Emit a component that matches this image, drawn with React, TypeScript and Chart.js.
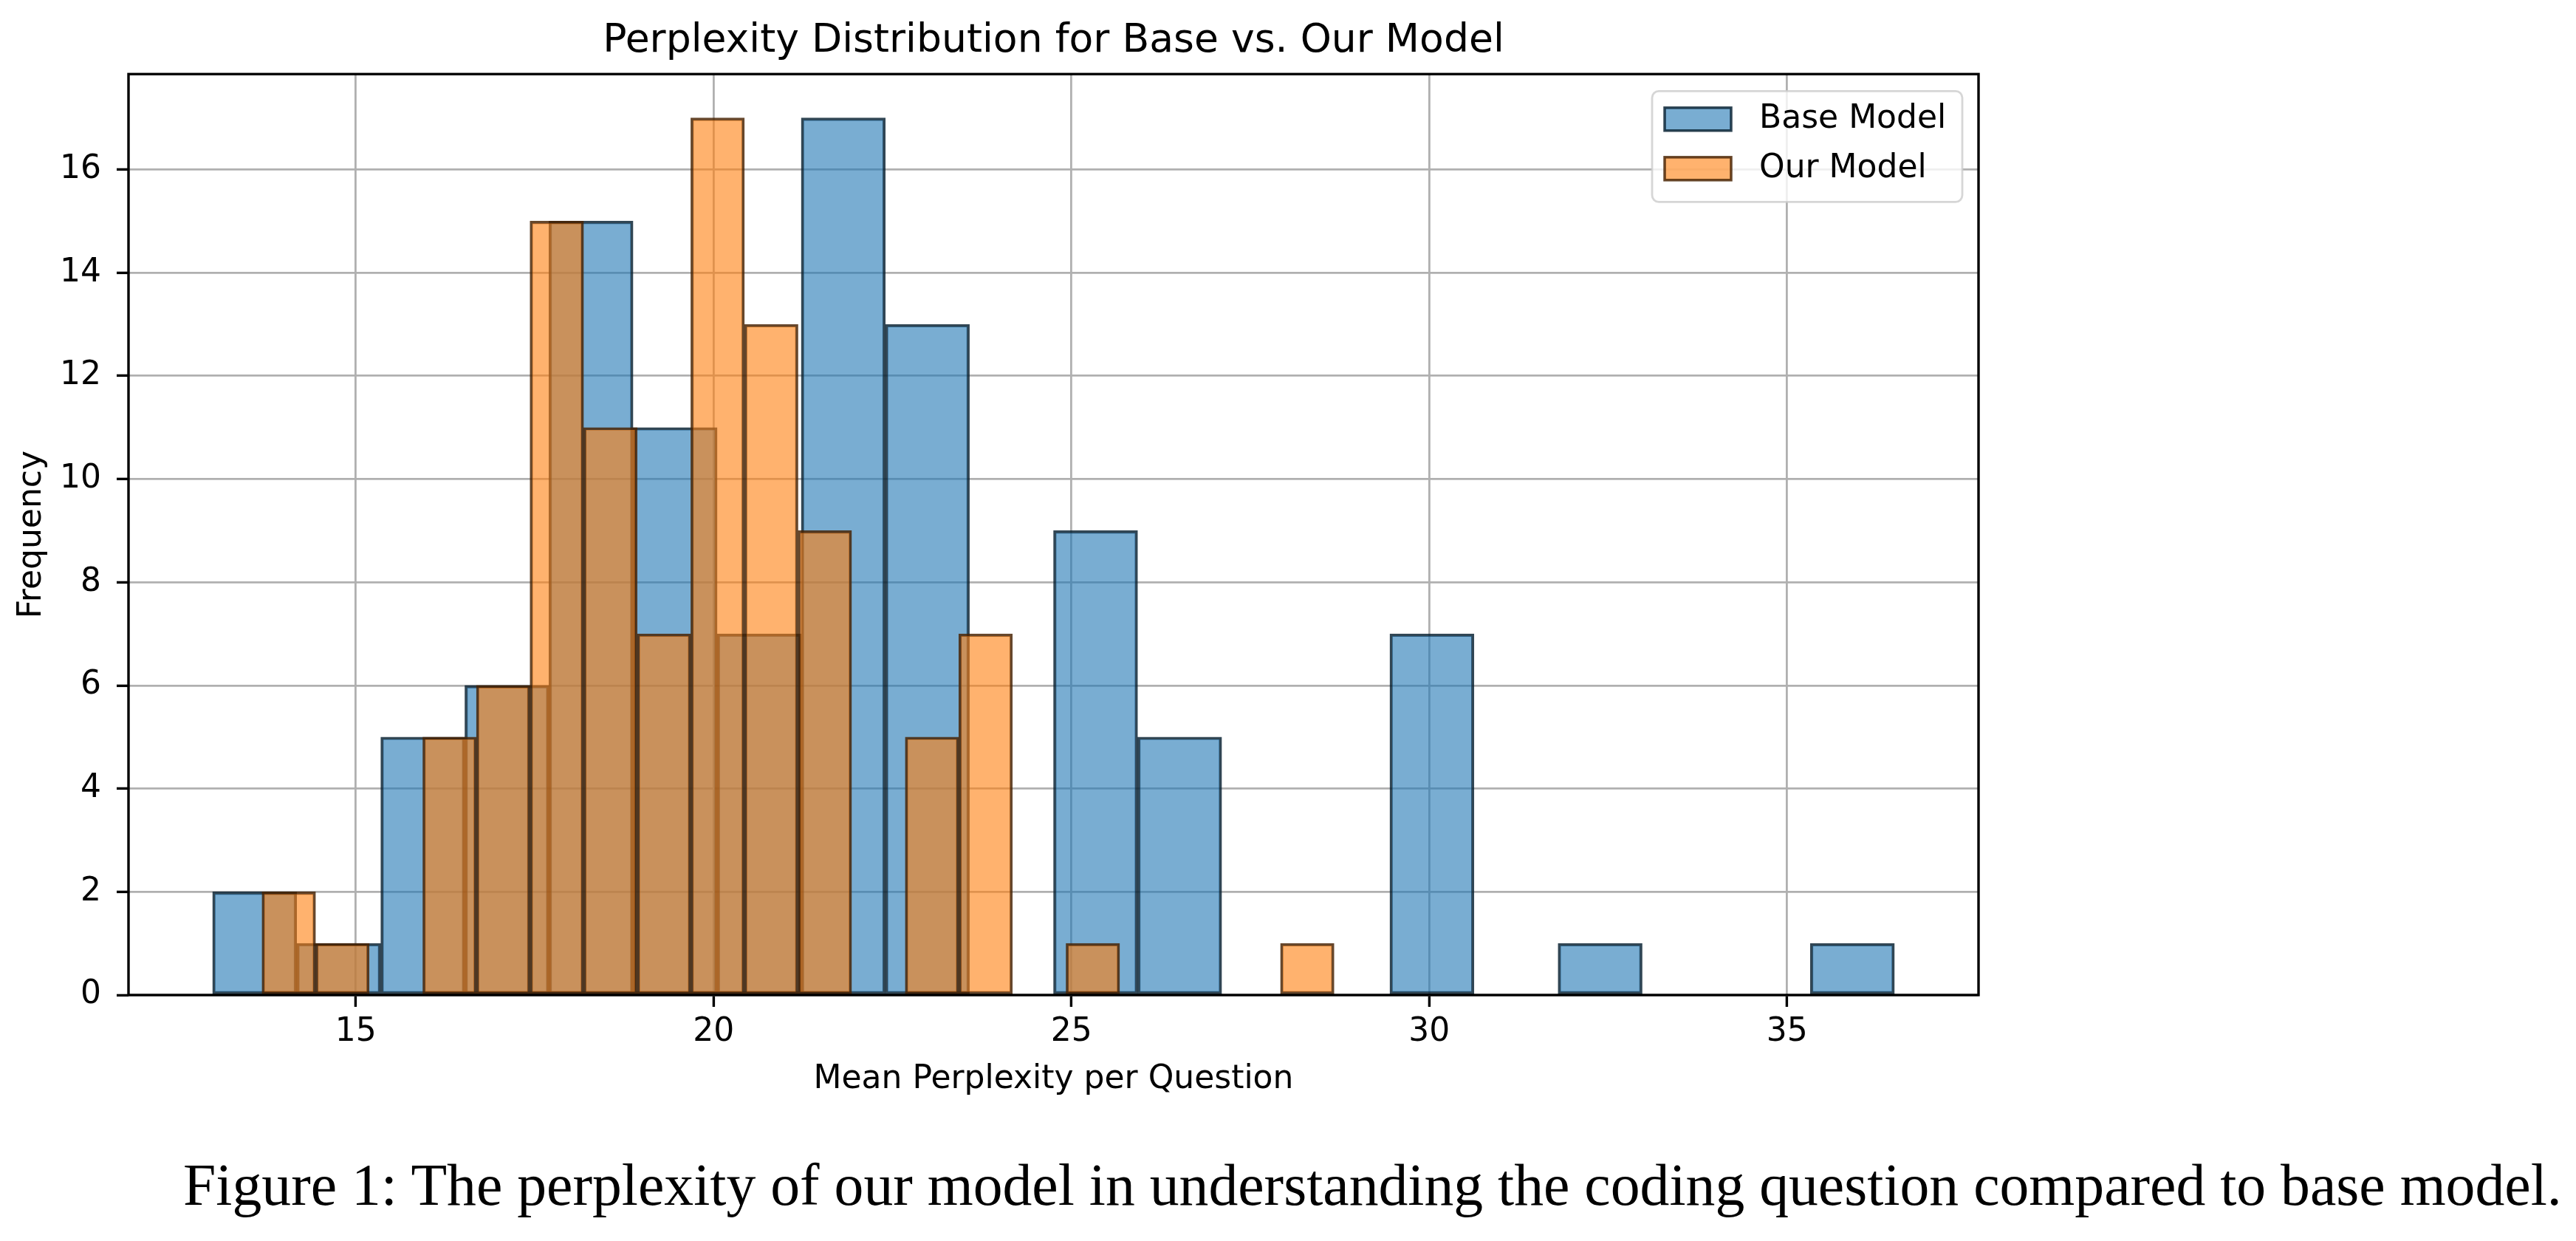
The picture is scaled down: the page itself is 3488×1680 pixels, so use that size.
import React, { useEffect, useRef } from 'react';
import { Chart, registerables } from 'chart.js';

Chart.register(...registerables);

// ---- data ----
const titleText = 'Perplexity Distribution for Base vs. Our Model';
const xAxisLabel = 'Mean Perplexity per Question';
const yAxisLabel = 'Frequency';
const captionText =
  'Figure 1: The perplexity of our model in understanding the coding question compared to base model.';
const seriesNames = ['Base Model', 'Our Model'];

// histogram bin ranges (first left edge, last right edge); bins are equal width
const baseBinRange = [13.0, 36.5];
const baseCounts = [2, 1, 5, 6, 15, 11, 7, 17, 13, 0, 9, 5, 0, 0, 7, 0, 1, 0, 0, 1];
const ourBinRange = [13.69, 28.67];
const ourCounts = [2, 1, 0, 5, 6, 15, 11, 7, 17, 13, 9, 0, 5, 7, 0, 1, 0, 0, 0, 1];

const xTicks = [15, 20, 25, 30, 35];
const yTicks = [0, 2, 4, 6, 8, 10, 12, 14, 16];
const xLimits = [11.825, 37.675];
const yLimits = [0, 17.85];

// ---- styles ----
const FONT = '"DejaVu Sans", sans-serif';
const baseFill = 'rgba(31,119,180,0.6)';
const baseEdge = 'rgba(9,34,51,0.84)';
const ourFill = 'rgba(255,127,14,0.6)';
const ourEdge = 'rgba(73,36,4,0.84)';

function binPoints(range: number[], counts: number[]) {
  const w = (range[1] - range[0]) / counts.length;
  return counts.map((c, i) => ({ x: range[0] + (i + 0.5) * w, y: c }));
}

const framePlugin = {
  id: 'mplFrame',
  afterDraw(chart: any) {
    const { ctx, chartArea: ca } = chart;
    ctx.save();
    // four spines
    ctx.strokeStyle = '#000';
    ctx.lineWidth = 3.4;
    ctx.strokeRect(ca.left, ca.top, ca.right - ca.left, ca.bottom - ca.top);
    // legend box (upper right, inside axes)
    const fw = 420;
    const fh = 150;
    const fx = ca.right - 22 - fw;
    const fy = ca.top + 23;
    ctx.beginPath();
    ctx.roundRect(fx, fy, fw, fh, 9);
    ctx.fillStyle = 'rgba(255,255,255,0.8)';
    ctx.fill();
    ctx.strokeStyle = 'rgba(204,204,204,0.8)';
    ctx.lineWidth = 2.8;
    ctx.stroke();
    chart.data.datasets.forEach((ds: any, i: number) => {
      const cy = fy + 38 + i * 67;
      const hx = fx + 17;
      const hw = 90;
      const hh = 31;
      ctx.fillStyle = ds.backgroundColor;
      ctx.fillRect(hx, cy - hh / 2, hw, hh);
      ctx.strokeStyle = ds.borderColor;
      ctx.lineWidth = 3.5;
      ctx.strokeRect(hx, cy - hh / 2, hw, hh);
      ctx.fillStyle = '#000';
      ctx.font = `44px ${FONT}`;
      ctx.textBaseline = 'middle';
      ctx.textAlign = 'left';
      ctx.fillText(ds.label, fx + 145, cy);
    });
    ctx.restore();
  },
};

export default function App() {
  const canvasRef = useRef<HTMLCanvasElement | null>(null);

  useEffect(() => {
    const canvas = canvasRef.current;
    if (!canvas) return;
    const tickFont = { family: FONT, size: 44, weight: 'normal' as const };
    const chart = new Chart(canvas, {
      type: 'bar',
      data: {
        datasets: [
          {
            label: seriesNames[0],
            data: binPoints(baseBinRange, baseCounts) as any,
            backgroundColor: baseFill,
            borderColor: baseEdge,
            borderWidth: 3.5,
            borderSkipped: false,
            grouped: false,
            order: 1,
          },
          {
            label: seriesNames[1],
            data: binPoints(ourBinRange, ourCounts) as any,
            backgroundColor: ourFill,
            borderColor: ourEdge,
            borderWidth: 3.5,
            borderSkipped: false,
            grouped: false,
            order: 0,
          },
        ],
      },
      options: {
        responsive: false,
        animation: false,
        devicePixelRatio: 1,
        events: [],
        layout: { padding: { left: 0, right: 809, top: 0, bottom: 173 } },
        plugins: {
          legend: { display: false },
          tooltip: { enabled: false },
          title: {
            display: true,
            text: titleText,
            fullSize: false,
            color: '#000',
            font: { family: FONT, size: 53.6, weight: 'normal' },
            padding: { top: 24, bottom: 12 },
          },
        },
        scales: {
          x: {
            type: 'linear',
            min: xLimits[0],
            max: xLimits[1],
            offset: false,
            z: 1,
            border: { display: false },
            grid: {
              offset: false,
              color: '#b0b0b0',
              lineWidth: 2.8,
              drawTicks: true,
              tickLength: 16,
              tickColor: '#000',
              tickWidth: 3.4,
            },
            ticks: {
              color: '#000',
              font: tickFont,
              padding: 8,
              maxRotation: 0,
              autoSkip: false,
              callback: (v: any) => String(v),
            },
            title: {
              display: true,
              text: xAxisLabel,
              color: '#000',
              font: tickFont,
              padding: { top: 0, bottom: 19 },
            },
            afterBuildTicks: (s: any) => {
              s.ticks = xTicks.map((v) => ({ value: v }));
            },
            afterFit: (s: any) => {
              s.height = 160;
            },
          },
          y: {
            type: 'linear',
            min: yLimits[0],
            max: yLimits[1],
            z: 1,
            border: { display: false },
            grid: {
              color: '#b0b0b0',
              lineWidth: 2.8,
              drawTicks: true,
              tickLength: 16,
              tickColor: '#000',
              tickWidth: 3.4,
            },
            ticks: {
              color: '#000',
              font: tickFont,
              padding: 21,
              autoSkip: false,
              callback: (v: any) => String(v),
            },
            title: {
              display: true,
              text: yAxisLabel,
              color: '#000',
              font: tickFont,
              padding: { top: 17, bottom: 0 },
            },
            afterBuildTicks: (s: any) => {
              s.ticks = yTicks.map((v) => ({ value: v }));
            },
            afterFit: (s: any) => {
              s.width = 174;
            },
          },
        },
      } as any,
      plugins: [framePlugin],
    });

    // bar widths = bin widths in data units, converted by the x scale
    const xs: any = chart.scales.x;
    const px = (range: number[], n: number) =>
      xs.getPixelForValue(range[0] + (range[1] - range[0]) / n) - xs.getPixelForValue(range[0]);
    (chart.data.datasets[0] as any).barThickness = px(baseBinRange, baseCounts.length);
    (chart.data.datasets[1] as any).barThickness = px(ourBinRange, ourCounts.length);
    chart.update();

    return () => chart.destroy();
  }, []);

  return (
    <div style={{ position: 'absolute', left: 0, top: 0, width: 3488, height: 1680, background: '#fff' }}>
      <canvas
        ref={canvasRef}
        width={3488}
        height={1680}
        style={{ position: 'absolute', left: 0, top: 0, width: 3488, height: 1680 }}
      />
      <div
        style={{
          position: 'absolute',
          left: 248,
          top: 1565,
          fontFamily: '"Liberation Serif", "Times New Roman", serif',
          fontSize: 79.7,
          lineHeight: '79.7px',
          whiteSpace: 'nowrap',
          color: '#000',
        }}
      >
        {captionText}
      </div>
    </div>
  );
}
